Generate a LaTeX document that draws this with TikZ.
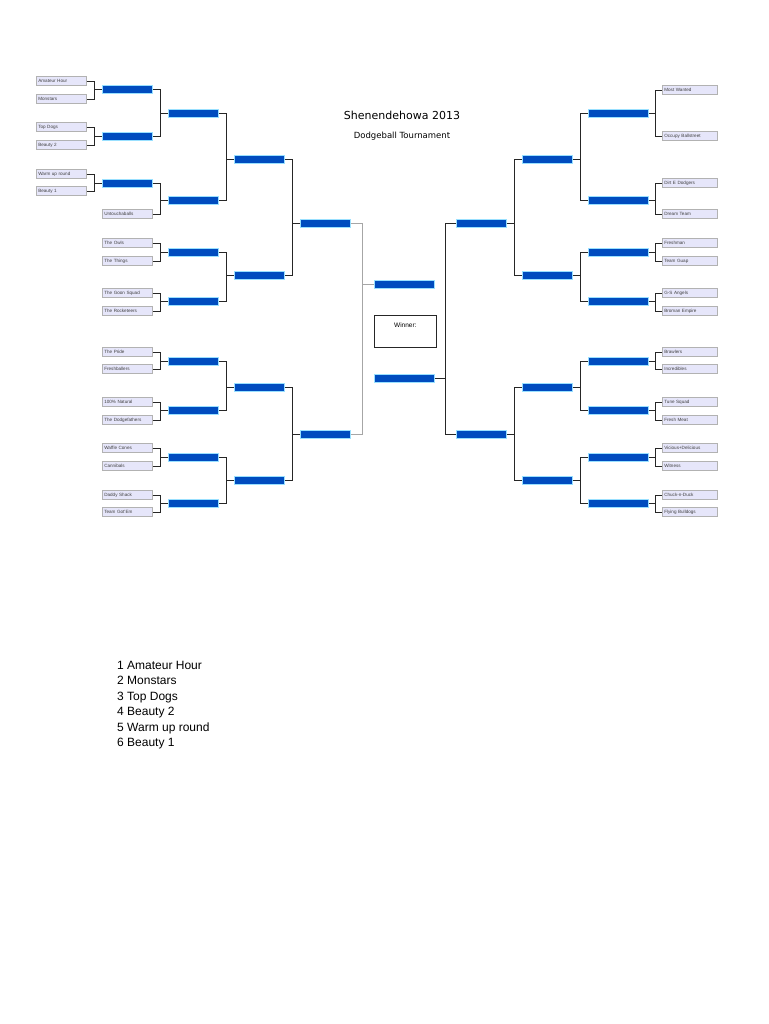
\documentclass[tikz,border=0pt]{standalone}
\usepackage{fontspec}
\setmainfont{Liberation Sans}
\newfontfamily\titlefont{DejaVu Sans}
\begin{document}
\begin{tikzpicture}[x=1pt,y=-1pt,
 team/.style={anchor=west,fill=gray!35!blue!12!white,draw=gray!60,line width=0.6pt,inner xsep=2pt,inner ysep=0pt,text width=46pt,minimum height=9pt,font=\fontsize{4.6}{5}\selectfont,text=black!75,align=left},
 teamr/.style={team,text width=51pt},
 slot/.style={anchor=west,fill=blue!60!cyan!75!black,draw=blue!30!cyan!40,line width=0.5pt,minimum width=50pt,minimum height=8pt,inner sep=0pt},
 con/.style={draw=black!85,line width=0.9pt},
 gcon/.style={draw=gray!70,line width=0.8pt}]
\useasboundingbox (0,0) rectangle (768,1024);
\newcommand\bl[4]{\draw[con] (#1.east) -- +(8,0) |- (#2.east); \draw[con] (#3.west) -- +(-8,0);}
\newcommand\br[4]{\draw[con] (#1.west) -- +(-8,0) |- (#2.west); \draw[con] (#3.east) -- +(8,0);}
% left col0
\node[team] (a1) at (36,81) {Amateur Hour};
\node[team] (a2) at (36,99) {Monstars};
\node[team] (a3) at (36,127) {Top Dogs};
\node[team] (a4) at (36,145) {Beauty 2};
\node[team] (a5) at (36,174) {Warm up round};
\node[team] (a6) at (36,191) {Beauty 1};
% left col1
\node[slot] (b1) at (102,89) {};
\node[slot] (b2) at (102,136) {};
\node[slot] (b3) at (102,183) {};
\node[team] (t1) at (102,214) {Untouchaballs};
\node[team] (t2) at (102,243) {The Owls};
\node[team] (t3) at (102,261) {The Things};
\node[team] (t4) at (102,293) {The Goon Squad};
\node[team] (t5) at (102,311) {The Rocketeers};
\node[team] (t6) at (102,352) {The Pride};
\node[team] (t7) at (102,369) {Freshballers};
\node[team] (t8) at (102,402) {100\% Natural};
\node[team] (t9) at (102,420) {The Dodgefathers};
\node[team] (t10) at (102,448) {Waffle Cones};
\node[team] (t11) at (102,466) {Cannibals};
\node[team] (t12) at (102,495) {Daddy Shack};
\node[team] (t13) at (102,512) {Team Got'Em};
% left col2
\node[slot] (c1) at (168,113) {};
\node[slot] (c2) at (168,200) {};
\node[slot] (c3) at (168,252) {};
\node[slot] (c4) at (168,301) {};
\node[slot] (c5) at (168,361) {};
\node[slot] (c6) at (168,410) {};
\node[slot] (c7) at (168,457) {};
\node[slot] (c8) at (168,503) {};
% left col3
\node[slot] (d1) at (234,159) {};
\node[slot] (d2) at (234,275) {};
\node[slot] (d3) at (234,387) {};
\node[slot] (d4) at (234,480) {};
% left col4
\node[slot] (e1) at (300,223) {};
\node[slot] (e2) at (300,434) {};
\bl{a1}{a2}{b1}{} \bl{a3}{a4}{b2}{} \bl{a5}{a6}{b3}{}
\bl{b1}{b2}{c1}{} \bl{b3}{t1}{c2}{} \bl{t2}{t3}{c3}{} \bl{t4}{t5}{c4}{}
\bl{t6}{t7}{c5}{} \bl{t8}{t9}{c6}{} \bl{t10}{t11}{c7}{} \bl{t12}{t13}{c8}{}
\bl{c1}{c2}{d1}{} \bl{c3}{c4}{d2}{} \bl{c5}{c6}{d3}{} \bl{c7}{c8}{d4}{}
\bl{d1}{d2}{e1}{} \bl{d3}{d4}{e2}{}
% center
\node[slot,minimum width=60pt] (f1) at (374,284) {};
\node[slot,minimum width=60pt] (f2) at (374,378) {};
\node[draw=black!85,line width=0.7pt,anchor=north west,minimum width=62pt,minimum height=32pt,inner sep=0pt] (win) at (374,315) {};
\node[font=\fontsize{6.5}{7}\selectfont,anchor=north] at ([yshift=-4pt]win.north) {Winner:};
\draw[gcon] (e1.east) -- +(12,0) |- (e2.east);
\draw[gcon] (f1.west) -- +(-12,0);
% right col4
\node[slot] (re1) at (456,223) {};
\node[slot] (re2) at (456,434) {};
\draw[con] (re1.west) -- +(-11,0) |- (re2.west);
\draw[con] (f2.east) -- +(11,0);
% right col3
\node[slot] (rd1) at (522,159) {};
\node[slot] (rd2) at (522,275) {};
\node[slot] (rd3) at (522,387) {};
\node[slot] (rd4) at (522,480) {};
% right col2
\node[slot,minimum width=60pt] (rc1) at (588,113) {};
\node[slot,minimum width=60pt] (rc2) at (588,200) {};
\node[slot,minimum width=60pt] (rc3) at (588,252) {};
\node[slot,minimum width=60pt] (rc4) at (588,301) {};
\node[slot,minimum width=60pt] (rc5) at (588,361) {};
\node[slot,minimum width=60pt] (rc6) at (588,410) {};
\node[slot,minimum width=60pt] (rc7) at (588,457) {};
\node[slot,minimum width=60pt] (rc8) at (588,503) {};
% right teams
\node[teamr] (r1) at (662,90) {Most Wanted};
\node[teamr] (r2) at (662,136) {Occupy Ballstreet};
\node[teamr] (r3) at (662,183) {Dirt E Dodgers};
\node[teamr] (r4) at (662,214) {Dream Team};
\node[teamr] (r5) at (662,243) {Freshman};
\node[teamr] (r6) at (662,261) {Team Guap};
\node[teamr] (r7) at (662,293) {G-S Angels};
\node[teamr] (r8) at (662,311) {Broman Empire};
\node[teamr] (r9) at (662,352) {Brawlers};
\node[teamr] (r10) at (662,369) {Incredibles};
\node[teamr] (r11) at (662,402) {Tune Squad};
\node[teamr] (r12) at (662,420) {Fresh Meat};
\node[teamr] (r13) at (662,448) {Vicious+Delicious};
\node[teamr] (r14) at (662,466) {Witness};
\node[teamr] (r15) at (662,495) {Chuck-n-Duck};
\node[teamr] (r16) at (662,512) {Flying Bulldogs};
\newcommand\brr[3]{\draw[con] (#1.west) -- +(-7,0) |- (#2.west); \draw[con] (#3.east) -- +(7,0);}
\brr{r1}{r2}{rc1} \brr{r3}{r4}{rc2} \brr{r5}{r6}{rc3} \brr{r7}{r8}{rc4}
\brr{r9}{r10}{rc5} \brr{r11}{r12}{rc6} \brr{r13}{r14}{rc7} \brr{r15}{r16}{rc8}
\br{rc1}{rc2}{rd1}{} \br{rc3}{rc4}{rd2}{} \br{rc5}{rc6}{rd3}{} \br{rc7}{rc8}{rd4}{}
\br{rd1}{rd2}{re1}{} \br{rd3}{rd4}{re2}{}
% title
\node[font=\titlefont\fontsize{11}{13}\selectfont] (ti1) at (402,115) {Shenendehowa 2013};
\node[font=\titlefont\fontsize{8.5}{10}\selectfont] (ti2) at (402,136) {Dodgeball Tournament};
% list
\node[anchor=north west,align=left,font=\fontsize{12}{15.4}\selectfont,inner sep=0pt] (list) at (117,661)
{1 Amateur Hour\\2 Monstars\\3 Top Dogs\\4 Beauty 2\\5 Warm up round\\6 Beauty 1};
\end{tikzpicture}
\end{document}
